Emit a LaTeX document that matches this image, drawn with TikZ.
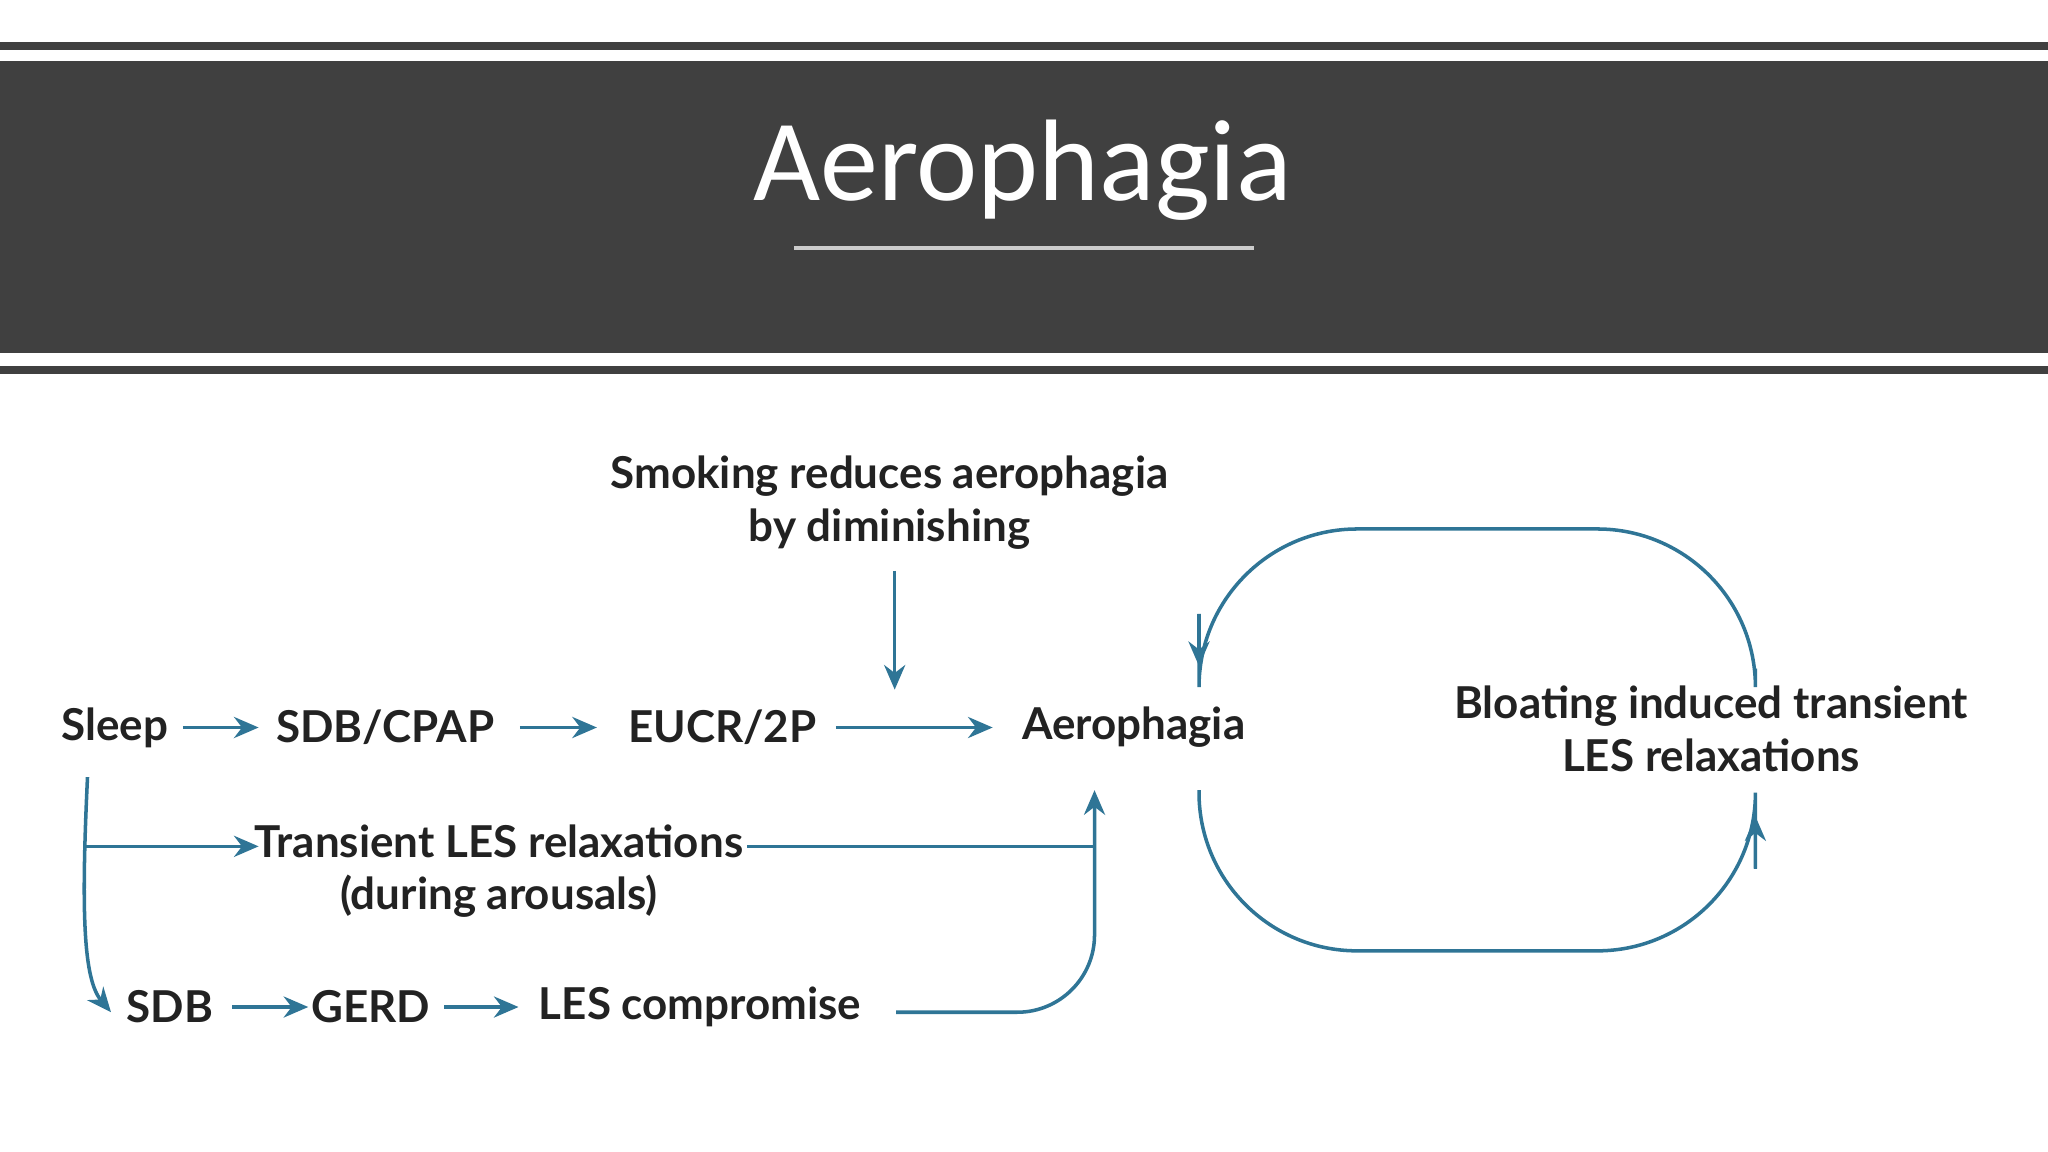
\documentclass[tikz,border=0pt]{standalone}
\usepackage{fontspec}
\setmainfont{Lato}
\newfontfamily\titlefont{Carlito}
\usetikzlibrary{arrows.meta}
\definecolor{band}{HTML}{404040}
\definecolor{arr}{HTML}{2F7596}
\definecolor{txt}{HTML}{222222}
\begin{document}
\begin{tikzpicture}[x=0.01306cm,y=-0.01306cm,
  lab/.style={font=\bfseries\fontsize{12.5}{15}\selectfont,text=txt,inner sep=2pt,align=center},
  con/.style={draw=arr,line width=1pt,rounded corners=22pt},
  ar/.style={con,-{Stealth[length=7pt,width=6pt]}}]
\useasboundingbox (0,0) rectangle (1568,882);
\fill[white] (0,0) rectangle (1568,882);
\fill[band] (0,32) rectangle (1568,38);
\fill[band] (0,47) rectangle (1568,270);
\fill[band] (0,280) rectangle (1568,286);
\node[text=white,font=\titlefont\fontsize{33}{40}\selectfont] (title) at (783,130) {Aerophagia};
\draw[gray!40,line width=1pt] (608,190) -- (960,190);

\node[lab] (sleep) at (88,557) {Sleep};
\node[lab] (sdbcpap) at (295,557) {SDB/CPAP};
\node[lab] (eucr) at (553,557) {EUCR/2P};
\node[lab] (aero) at (868,557) {Aerophagia};
\node[lab] (bloat) at (1310,558) {Bloating induced transient\\LES relaxations};
\node[lab] (smoke) at (681,385) {Smoking reduces aerophagia\\by diminishing};
\node[lab] (tles) at (382,667) {Transient LES relaxations\\(during arousals)};
\node[lab] (sdb) at (130,771) {SDB};
\node[lab] (gerd) at (284,771) {GERD};
\node[lab] (lesc) at (536,771) {LES compromise};

\coordinate (a1) at (140,557); \coordinate (a2) at (198,557);
\coordinate (b1) at (398,557); \coordinate (b2) at (457,557);
\coordinate (c1) at (640,557); \coordinate (c2) at (760,557);
\coordinate (s1) at (685,437); \coordinate (s2) at (685,528);
\draw[ar] (a1) -- (a2);
\draw[ar] (b1) -- (b2);
\draw[ar] (c1) -- (c2);
\draw[ar] (s1) -- (s2);

\coordinate (d0) at (67,595); \coordinate (d1) at (85,775);
\draw[con,-{Stealth[length=7pt,width=6pt]},rounded corners=0pt] (d0) .. controls (62,700) and (64,750) .. (d1);
\coordinate (e0) at (65,648); \coordinate (e1) at (198,648);
\draw[ar] (e0) -- (e1);
\coordinate (f0) at (572,648); \coordinate (f1) at (838,648);
\draw[con] (f0) -- (f1);
\coordinate (g0) at (686,775); \coordinate (g1) at (838,775); \coordinate (g2) at (838,605);
\draw[ar] (g0) -- (g1) -- (g2);
\draw[ar] (178,771) -- (236,771);
\draw[ar] (340,771) -- (397,771);

\coordinate (h0) at (1344,512); \coordinate (h1) at (1344,405); \coordinate (h2) at (918,405); \coordinate (h3) at (918,510);
\draw[con,rounded corners=45pt] (h0) -- (h1) -- (h2) -- (918,470);
\draw[ar] (918,470) -- (h3);
\coordinate (i0) at (918,605); \coordinate (i1) at (918,728); \coordinate (i2) at (1344,728); \coordinate (i3) at (1344,625);
\draw[con,rounded corners=45pt] (i0) -- (i1) -- (i2) -- (1344,665);
\draw[ar] (1344,665) -- (i3);
\end{tikzpicture}
\end{document}
